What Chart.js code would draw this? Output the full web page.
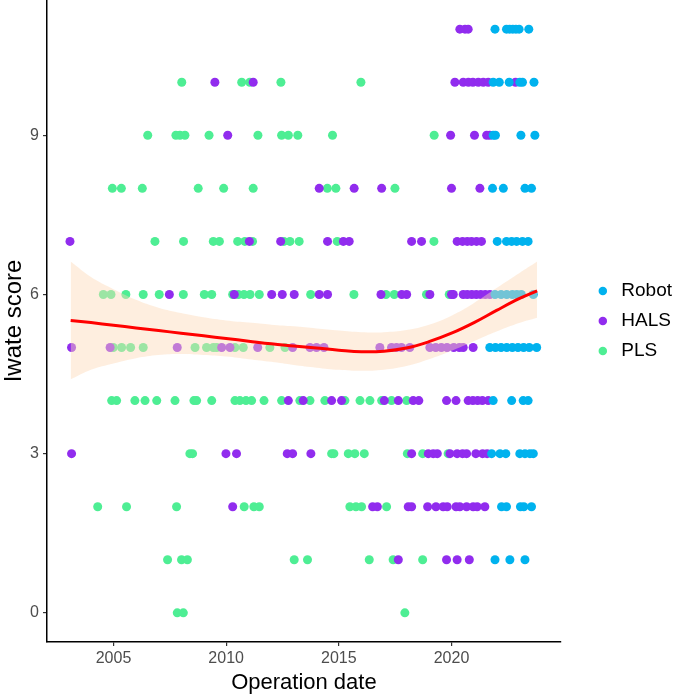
<!DOCTYPE html>
<html>
<head>
<meta charset="utf-8">
<script src="https://cdn.jsdelivr.net/npm/chart.js@4"></script>
<style>
  body { margin: 0; background: #fff; }
  #wrap { width: 685px; height: 696px; }
</style>
</head>
<body>
<div id="wrap"><canvas id="chart" width="685" height="696"></canvas></div>
<script>
// operation years for each Iwate score (index = score 0..11)
var plsYears = [
  [2007.83, 2008.1, 2017.93],
  [2007.4, 2008.02, 2008.28, 2013.02, 2013.61, 2016.35, 2017.41, 2018.72],
  [2004.30, 2005.58, 2007.8, 2010.8, 2011.23, 2011.47, 2015.49, 2015.76, 2016.01, 2017.12],
  [2008.39, 2008.51, 2014.68, 2014.78, 2015.42, 2015.71, 2016.13, 2018.04, 2018.72, 2019.85],
  [2004.92, 2005.14, 2005.95, 2006.40, 2006.92, 2007.73, 2008.57, 2008.69, 2009.36, 2010.39, 2010.61, 2010.88, 2011.13, 2011.68, 2012.46, 2013.27, 2013.72, 2014.38, 2015.27, 2015.94, 2016.38, 2016.9, 2017.34, 2018.01],
  [2004.99, 2005.36, 2005.76, 2006.32, 2008.62, 2009.13, 2009.43, 2009.58, 2010.39, 2010.76, 2011.94, 2012.61],
  [2004.55, 2004.89, 2005.55, 2006.32, 2007.03, 2008.1, 2009.03, 2009.36, 2010.29, 2010.54, 2010.79, 2011.06, 2011.47, 2013.75, 2015.67, 2017.09, 2017.46, 2018.89, 2019.9],
  [2006.84, 2008.11, 2009.43, 2009.7, 2010.51, 2010.83, 2011.17, 2012.56, 2012.83, 2013.24, 2014.93, 2019.22],
  [2004.95, 2005.35, 2006.28, 2008.76, 2009.89, 2011.20, 2014.49, 2014.87, 2017.49],
  [2006.52, 2007.77, 2007.95, 2008.17, 2009.24, 2011.41, 2012.46, 2012.76, 2013.18, 2014.72, 2019.23],
  [2008.03, 2010.69, 2011.05, 2012.43, 2015.98],
  []
];
var halsYears = [
  [],
  [2017.64, 2019.78, 2020.25, 2020.79],
  [2010.29, 2016.5, 2016.71, 2018.08, 2018.23, 2018.94, 2019.31, 2019.63, 2019.81, 2020.2, 2020.37, 2020.67, 2020.96, 2021.14, 2021.48],
  [2003.14, 2009.99, 2010.46, 2012.71, 2012.95, 2013.76, 2018.23, 2018.97, 2019.19, 2019.37, 2019.93, 2020.25, 2020.49, 2020.67, 2021.08, 2021.38, 2021.58],
  [2012.76, 2013.42, 2014.68, 2015.12, 2017.02, 2017.64, 2018.3, 2018.55, 2019.78, 2020.2, 2020.74, 2020.95, 2021.16, 2021.37, 2021.63],
  [2003.14, 2004.85, 2007.83, 2009.8, 2010.17, 2011.4, 2012.95, 2013.72, 2014.01, 2014.34, 2016.82, 2017.34, 2017.56, 2017.78, 2018.15, 2019.04, 2019.3, 2019.55, 2019.8, 2020.1, 2020.35, 2020.52, 2020.96],
  [2007.48, 2010.36, 2012.02, 2012.49, 2013.02, 2014.13, 2014.5, 2016.87, 2017.79, 2018.01, 2019.04, 2020.0, 2020.08, 2020.52, 2020.7, 2020.9, 2021.1, 2021.3, 2021.5, 2021.7],
  [2003.07, 2011.03, 2012.42, 2014.50, 2015.2, 2015.46, 2018.23, 2018.67, 2020.25, 2020.49, 2020.7, 2020.89, 2021.11, 2021.33],
  [2014.13, 2015.68, 2016.9, 2020.0, 2021.26],
  [2010.07, 2019.96, 2021.02, 2021.56, 2021.70],
  [2009.50, 2011.2, 2020.15, 2020.52, 2020.75, 2020.95, 2021.19, 2021.41, 2021.63, 2022.84],
  [2020.37, 2020.6, 2020.74]
];
var robotYears = [
  [],
  [2021.93, 2022.59, 2023.26],
  [2022.22, 2022.44, 2023.06, 2023.21, 2023.55],
  [2021.78, 2022.15, 2022.41, 2023.03, 2023.26, 2023.48, 2023.63],
  [2021.85, 2022.67, 2023.18, 2023.4],
  [2021.7, 2021.95, 2022.2, 2022.45, 2022.7, 2022.95, 2023.2, 2023.45, 2023.78],
  [2021.93, 2022.2, 2022.45, 2022.7, 2022.9, 2023.1, 2023.63],
  [2022.03, 2022.44, 2022.67, 2022.89, 2023.15, 2023.4],
  [2021.82, 2022.3, 2023.26, 2023.55],
  [2021.85, 2021.95, 2023.08, 2023.7],
  [2021.85, 2022.12, 2022.56, 2023.03, 2023.15, 2023.66],
  [2021.93, 2022.44, 2022.58, 2022.72, 2022.86, 2023.0, 2023.43]
];

// smoothed trend with confidence band
var smoothYears = [2003.1, 2004, 2005, 2006, 2007, 2008, 2009, 2010, 2011, 2012, 2013, 2014, 2015, 2016, 2017, 2018, 2019, 2020, 2021, 2022, 2023, 2023.8];
var smoothFit   = [5.51, 5.47, 5.42, 5.37, 5.32, 5.27, 5.22, 5.17, 5.12, 5.07, 5.03, 4.99, 4.95, 4.92, 4.93, 4.99, 5.11, 5.27, 5.47, 5.70, 5.92, 6.07];
var smoothUpper = [6.62, 6.33, 6.10, 5.90, 5.75, 5.65, 5.57, 5.51, 5.47, 5.43, 5.40, 5.36, 5.32, 5.29, 5.29, 5.33, 5.43, 5.60, 5.84, 6.12, 6.40, 6.62];
var smoothLower = [4.40, 4.58, 4.70, 4.80, 4.86, 4.88, 4.86, 4.83, 4.78, 4.73, 4.67, 4.62, 4.58, 4.56, 4.58, 4.65, 4.78, 4.94, 5.12, 5.30, 5.46, 5.56];

var xTicks = [2005, 2010, 2015, 2020];
var yTicks = [0, 3, 6, 9];

function toPoints(rows) {
  var pts = [];
  rows.forEach(function (years, score) {
    years.forEach(function (yr) { pts.push({ x: yr, y: score }); });
  });
  return pts;
}
function zipLine(ys) {
  return smoothYears.map(function (x, i) { return { x: x, y: ys[i] }; });
}

var fam = 'Liberation Sans, Arial';
var tickFont = { family: fam, size: 16 };

var ctx = document.getElementById('chart').getContext('2d');
var myChart = new Chart(ctx, {
  type: 'scatter',
  data: {
    datasets: [
      { type: 'line', label: 'fit', data: zipLine(smoothFit), borderColor: '#FF0000', borderWidth: 3,
        pointRadius: 0, tension: 0.4, fill: false },
      { type: 'line', label: 'upper', data: zipLine(smoothUpper), borderWidth: 0, borderColor: 'rgba(0,0,0,0)',
        pointRadius: 0, tension: 0.4, fill: '+1', backgroundColor: 'rgba(253, 218, 185, 0.45)' },
      { type: 'line', label: 'lower', data: zipLine(smoothLower), borderWidth: 0, borderColor: 'rgba(0,0,0,0)',
        pointRadius: 0, tension: 0.4, fill: false },
      { label: 'Robot', data: toPoints(robotYears), backgroundColor: '#00B2EE', borderWidth: 0, pointRadius: 4.5 },
      { label: 'HALS', data: toPoints(halsYears), backgroundColor: '#912CEE', borderWidth: 0, pointRadius: 4.5 },
      { label: 'PLS', data: toPoints(plsYears), backgroundColor: '#4EEE94', borderWidth: 0, pointRadius: 4.5 }
    ]
  },
  options: {
    responsive: false,
    animation: false,
    layout: { autoPadding: false, padding: { top: 0, right: 3, bottom: 0, left: 0 } },
    plugins: {
      tooltip: { enabled: false },
      legend: {
        position: 'right',
        fullSize: false,
        labels: {
          usePointStyle: true,
          pointStyle: 'circle',
          boxWidth: 18,
          boxHeight: 6,
          padding: 11,
          color: '#000',
          font: { family: fam, size: 19 },
          filter: function (item) { return ['Robot', 'HALS', 'PLS'].indexOf(item.text) >= 0; }
        }
      }
    },
    scales: {
      x: {
        type: 'linear',
        min: 2002.05,
        max: 2024.85,
        afterBuildTicks: function (scale) { scale.ticks = xTicks.map(function (v) { return { value: v }; }); },
        afterFit: function (scale) { scale.height = 54; },
        ticks: { color: '#4D4D4D', font: tickFont, padding: 3, maxRotation: 0,
                 callback: function (v) { return String(v); } },
        grid: { drawOnChartArea: false, drawTicks: true, tickLength: 4, color: '#333', lineWidth: 1.2 },
        border: { display: true, color: '#000', width: 1.5 },
        title: { display: true, text: 'Operation date', color: '#000', font: { family: fam, size: 22 }, padding: { top: 0, bottom: 0 } }
      },
      y: {
        type: 'linear',
        min: -0.55,
        max: 11.55,
        afterBuildTicks: function (scale) { scale.ticks = yTicks.map(function (v) { return { value: v }; }); },
        afterFit: function (scale) { scale.width = 47; scale.paddingTop = 0; scale.paddingBottom = 0; },
        ticks: { color: '#4D4D4D', font: tickFont, padding: 4 },
        grid: { drawOnChartArea: false, drawTicks: true, tickLength: 4, color: '#333', lineWidth: 1.2 },
        border: { display: true, color: '#000', width: 1.5 },
        title: { display: true, text: 'Iwate score', color: '#000', font: { family: fam, size: 24 }, padding: { top: 0, bottom: 0 } }
      },
      yspace: {
        position: 'right',
        display: true,
        grid: { display: false },
        ticks: { display: false },
        border: { display: false },
        afterFit: function (scale) { scale.width = 22; scale.paddingTop = 0; scale.paddingBottom = 0; }
      }
    }
  }
});
</script>
</body>
</html>
